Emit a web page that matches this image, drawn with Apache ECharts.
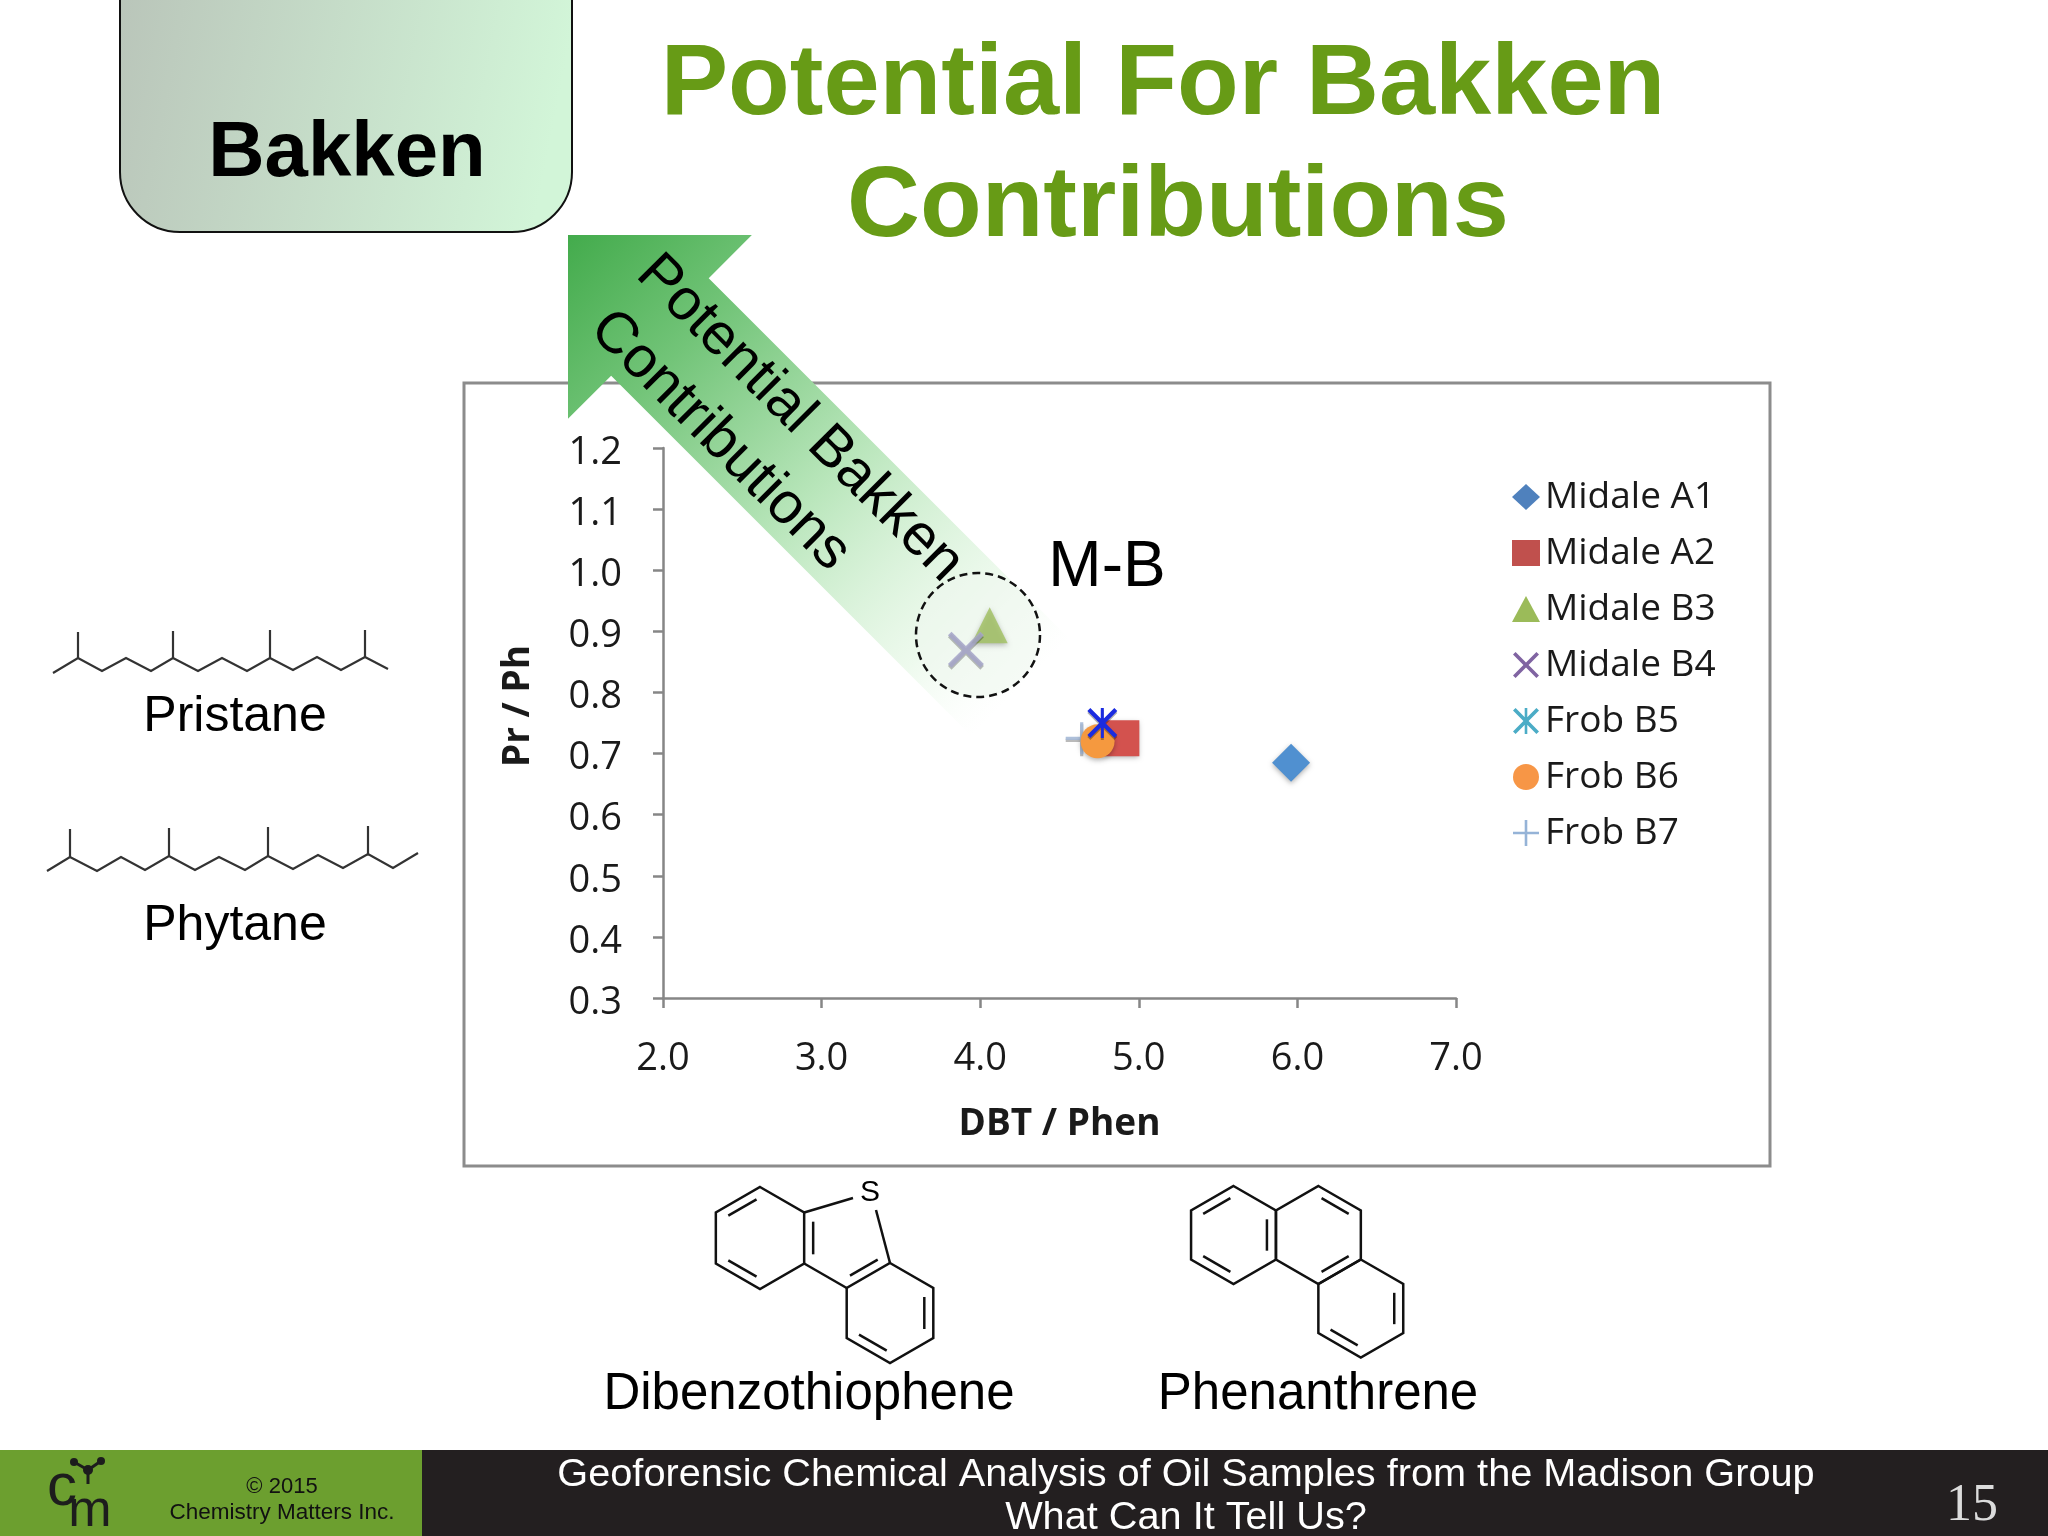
<!DOCTYPE html>
<html><head><meta charset="utf-8">
<script src="https://cdn.jsdelivr.net/npm/echarts@6/dist/echarts.min.js"></script>
<style>html,body{margin:0;padding:0;background:#fff;}#c{width:2048px;height:1536px;}</style>
</head><body><div id="c"></div>
<script>
// ---- data ----
const seriesNames = ['Midale A1','Midale A2','Midale B3','Midale B4','Frob B5','Frob B6','Frob B7'];
const dbtPhen = [5.96, 4.89, 4.06, 3.91, 4.77, 4.74, 4.64];
const prPh    = [0.685, 0.725, 0.91, 0.87, 0.75, 0.72, 0.725];
const xTicks = [2, 3, 4, 5, 6, 7];
const xTickLabels = ['2.0','3.0','4.0','5.0','6.0','7.0'];
const yTicks = [0.3, 0.4, 0.5, 0.6, 0.7, 0.8, 0.9, 1.0, 1.1, 1.2];
const yTickLabels = ['0.3','0.4','0.5','0.6','0.7','0.8','0.9','1.0','1.1','1.2'];

// ---- styles ----
const X_PATH = 'path://M1,0 L5,4 L9,0 L10,1 L6,5 L10,9 L9,10 L5,6 L1,10 L0,9 L4,5 L0,1 Z';
const AST_PATH = 'path://M1,0 L5,4 L9,0 L10,1 L6,5 L10,9 L9,10 L5,6 L1,10 L0,9 L4,5 L0,1 Z M4.5,0 L5.5,0 L5.5,10 L4.5,10 Z';
const PLUS_PATH = 'path://M4.5,0 L5.5,0 L5.5,4.5 L10,4.5 L10,5.5 L5.5,5.5 L5.5,10 L4.5,10 L4.5,5.5 L0,5.5 L0,4.5 L4.5,4.5 Z';
const symbols = ['diamond','rect','triangle',X_PATH,AST_PATH,'circle',PLUS_PATH];
const legendColors = ['#4f81bd','#c0504d','#9bbb59','#8064a2','#4bacc6','#f79646','#95b3d7'];
const markColors = ['#5090d0','#d3524e','#a3c266','#a4a4c8','#1a2be0','#f5993f','#a5b9d6'];
const symSizes = [38, 36, 36, 36, 30, 34, 32];
const zs = [3, 2, 3, 3, 6, 5, 4];
const opac = [1, 1, 0.85, 0.85, 1, 1, 0.9];

const sansUI = 'Open Sans';
const arial = 'Liberation Sans, Arial, sans-serif';

const chart = echarts.init(document.getElementById('c'), null, {renderer:'canvas'});

// ---- decorative helpers ----
function hex(cx, cy, r){const p=[];for(let i=0;i<6;i++){const a=(-90+60*i)*Math.PI/180;p.push([cx+r*Math.cos(a),cy+r*Math.sin(a)]);}return p;}
function bond(p,q,c,d,s){d=d||9;s=s||0.18;const dx=q[0]-p[0],dy=q[1]-p[1],L=Math.hypot(dx,dy);let nx=-dy/L,ny=dx/L;const mx=(p[0]+q[0])/2,my=(p[1]+q[1])/2;if((c[0]-mx)*nx+(c[1]-my)*ny<0){nx=-nx;ny=-ny;}
 return {type:'line',shape:{x1:p[0]+dx*s+nx*d,y1:p[1]+dy*s+ny*d,x2:q[0]-dx*s+nx*d,y2:q[1]-dy*s+ny*d},style:{stroke:'#111',lineWidth:2.5}};}
function ring(pts){return {type:'polygon',shape:{points:pts},style:{fill:'none',stroke:'#111',lineWidth:2.5}};}
function seg(a,b,w,col){return {type:'line',shape:{x1:a[0],y1:a[1],x2:b[0],y2:b[1]},style:{stroke:col||'#111',lineWidth:w||2.5}};}

const g = [];
// chart frame
g.push({type:'rect',z:-5,shape:{x:464,y:383,width:1306,height:783},style:{fill:'#fff',stroke:'#8c8c8c',lineWidth:3}});
// Bakken box
g.push({type:'rect',z:1,shape:{x:120,y:-60,width:452,height:292,r:60},style:{fill:{type:'linear',x:0,y:0,x2:1,y2:0.3,colorStops:[{offset:0,color:'#b9c4b9'},{offset:1,color:'#d2f5d8'}]},stroke:'#111',lineWidth:2}});
g.push({type:'text',z:2,style:{text:'Bakken',x:347,y:154,align:'center',verticalAlign:'middle',font:'bold 78px '+arial,fill:'#000'}});
// title
g.push({type:'text',z:2,style:{text:'Potential For Bakken',x:1163,y:86,align:'center',verticalAlign:'middle',font:'bold 101px '+arial,fill:'#679b16'}});
g.push({type:'text',z:2,style:{text:'Contributions',x:1178,y:208,align:'center',verticalAlign:'middle',font:'bold 101px '+arial,fill:'#679b16'}});
// green arrow
g.push({type:'group',x:568,y:235,rotation:-Math.PI/4,z:1,children:[
 {type:'polygon',z:1,shape:{points:[[0,0],[130,-130],[130,-69],[640,-69],[640,69],[130,69],[130,130]]},
  style:{fill:{type:'linear',x:0,y:0,x2:1,y2:0,colorStops:[{offset:0,color:'#43ab4c'},{offset:0.25,color:'#72c478'},{offset:0.55,color:'#b7e5b9'},{offset:0.85,color:'rgba(225,246,225,0.6)'},{offset:1,color:'rgba(240,252,240,0)'}]}}},
 {type:'text',z:2,style:{text:'Potential Bakken',x:76,y:-34,align:'left',verticalAlign:'middle',font:'58px '+arial,fill:'#000'}},
 {type:'text',z:2,style:{text:'Contributions',x:82,y:38,align:'left',verticalAlign:'middle',font:'58px '+arial,fill:'#000'}}
]});
// dashed circle
g.push({type:'circle',z:1,shape:{cx:978,cy:635,r:62},style:{fill:'rgba(238,246,238,0.6)',stroke:'#111',lineWidth:2.5,lineDash:[8,5]}});
g.push({type:'text',z:2,style:{text:'M-B',x:1107,y:568,align:'center',verticalAlign:'middle',font:'64px '+arial,fill:'#000'}});

// Pristane / Phytane
const pri = [[53,673],[78,658],[102,671],[126,658],[151,671],[173,658],[198,671],[222,658],[247,671],[270,658],[293,670],[317,657],[341,670],[365,657],[388,669]];
const priB = [[1,632],[5,631],[9,630],[13,630]];
const phy = [[47,871],[70,857],[97,871],[121,857],[145,870],[169,856],[195,870],[219,857],[245,870],[268,856],[293,869],[318,855],[343,868],[368,854],[393,868],[418,853]];
const phyB = [[1,829],[5,828],[9,827],[13,826]];
g.push({type:'polyline',shape:{points:pri},style:{stroke:'#333',lineWidth:2.2,fill:'none'}});
priB.forEach(b=>g.push(seg(pri[b[0]],[pri[b[0]][0],b[1]],2.2,'#333')));
g.push({type:'polyline',shape:{points:phy},style:{stroke:'#333',lineWidth:2.2,fill:'none'}});
phyB.forEach(b=>g.push(seg(phy[b[0]],[phy[b[0]][0],b[1]],2.2,'#333')));
g.push({type:'text',style:{text:'Pristane',x:235,y:717,align:'center',verticalAlign:'middle',font:'50px '+arial,fill:'#000'}});
g.push({type:'text',style:{text:'Phytane',x:235,y:926,align:'center',verticalAlign:'middle',font:'50px '+arial,fill:'#000'}});

// Dibenzothiophene
const dL = hex(760,1238,51), dR = hex(890,1313,50), c5=[843,1245];
g.push(ring(dL)); g.push(ring(dR));
g.push(bond(dL[5],dL[0],[760,1238])); g.push(bond(dL[3],dL[4],[760,1238]));
g.push(bond(dL[1],dL[2],c5));
g.push(bond(dR[1],dR[2],[890,1313])); g.push(bond(dR[3],dR[4],[890,1313]));
g.push(bond(dR[5],dR[0],c5));
g.push(seg(dL[2],dR[5])); g.push(seg(dL[1],[853,1198])); g.push(seg([876,1210],dR[0]));
g.push({type:'text',style:{text:'S',x:870,y:1193,align:'center',verticalAlign:'middle',font:'30px '+arial,fill:'#000'}});
// Phenanthrene
const pA = hex(1233.5,1235,49), pB = hex(1318.4,1235,49), pC = hex(1360.8,1308.5,49);
[pA,pB,pC].forEach(r=>g.push(ring(r)));
g.push(bond(pA[5],pA[0],[1233.5,1235])); g.push(bond(pA[3],pA[4],[1233.5,1235])); g.push(bond(pA[1],pA[2],[1233.5,1235]));
g.push(bond(pB[0],pB[1],[1318.4,1235])); g.push(bond(pB[2],pB[3],[1318.4,1235]));
g.push(bond(pC[1],pC[2],[1360.8,1308.5])); g.push(bond(pC[3],pC[4],[1360.8,1308.5]));
g.push({type:'text',style:{text:'Dibenzothiophene',x:809,y:1395,align:'center',verticalAlign:'middle',font:'51px '+arial,fill:'#000'}});
g.push({type:'text',style:{text:'Phenanthrene',x:1318,y:1395,align:'center',verticalAlign:'middle',font:'51px '+arial,fill:'#000'}});

// footer
g.push({type:'rect',z:5,shape:{x:0,y:1450,width:2048,height:86},style:{fill:'#231f20'}});
g.push({type:'rect',z:5,shape:{x:0,y:1450,width:422,height:86},style:{fill:'#6c9f2f'}});
g.push({type:'text',z:6,style:{text:'c',x:62,y:1488,align:'center',verticalAlign:'middle',font:'60px '+arial,fill:'#1d1d1d'}});
g.push({type:'text',z:6,style:{text:'m',x:90,y:1512,align:'center',verticalAlign:'middle',font:'52px '+arial,fill:'#1d1d1d'}});
g.push({type:'circle',z:6,shape:{cx:88,cy:1470,r:5},style:{fill:'#1d1d1d'}});
g.push({type:'circle',z:6,shape:{cx:74,cy:1462,r:4},style:{fill:'#1d1d1d'}});
g.push({type:'circle',z:6,shape:{cx:101,cy:1461,r:4},style:{fill:'#1d1d1d'}});
g.push(Object.assign(seg([74,1462],[88,1470],3,'#1d1d1d'),{z:6}));
g.push(Object.assign(seg([101,1461],[88,1470],3,'#1d1d1d'),{z:6}));
g.push(Object.assign(seg([88,1470],[88,1484],3,'#1d1d1d'),{z:6}));
g.push({type:'text',z:6,style:{text:'© 2015',x:282,y:1487,align:'center',verticalAlign:'middle',font:'22px '+arial,fill:'#111'}});
g.push({type:'text',z:6,style:{text:'Chemistry Matters Inc.',x:282,y:1513,align:'center',verticalAlign:'middle',font:'22.5px '+arial,fill:'#111'}});
g.push({type:'text',z:6,style:{text:'Geoforensic Chemical Analysis of Oil Samples from the Madison Group',x:1186,y:1475,align:'center',verticalAlign:'middle',font:'39.7px '+arial,fill:'#fff'}});
g.push({type:'text',z:6,style:{text:'What Can It Tell Us?',x:1186,y:1518,align:'center',verticalAlign:'middle',font:'39.7px '+arial,fill:'#fff'}});
g.push({type:'text',z:6,style:{text:'15',x:1972,y:1506,align:'center',verticalAlign:'middle',font:'52px Liberation Serif, DejaVu Serif, serif',fill:'#dcdcdc'}});

const series = seriesNames.map((n,i)=>({
  name:n, type:'scatter', z:zs[i], symbol:symbols[i], symbolSize:symSizes[i],
  data:[[dbtPhen[i], prPh[i]]],
  itemStyle:{color:markColors[i], opacity:opac[i],
    shadowBlur:(i===3||i===4||i===6)?0:5, shadowColor:'rgba(0,0,0,0.3)', shadowOffsetY:2}
}));

const axisCol = '#868686';
chart.setOption({
  animation:false,
  backgroundColor:'transparent',
  grid:{left:663, top:448, right:592, bottom:538, containLabel:false},
  xAxis:{type:'value', min:xTicks[0], max:xTicks[xTicks.length-1], interval:1,
    axisLine:{show:true,onZero:false,lineStyle:{color:axisCol,width:2.5}},
    axisTick:{show:true,length:10,lineStyle:{color:axisCol,width:2.5}},
    splitLine:{show:false},
    axisLabel:{margin:42,fontSize:38,fontFamily:sansUI,color:'#1a1a1a',
      formatter:v=>{const k=xTicks.findIndex(t=>Math.abs(t-v)<1e-6);return k>=0?xTickLabels[k]:'';}},
    name:'DBT / Phen', nameLocation:'middle', nameGap:108,
    nameTextStyle:{fontSize:37,fontWeight:'bold',fontFamily:sansUI,color:'#1a1a1a'}},
  yAxis:{type:'value', min:yTicks[0], max:yTicks[yTicks.length-1], interval:0.1,
    axisLine:{show:true,onZero:false,lineStyle:{color:axisCol,width:2.5}},
    axisTick:{show:true,length:10,lineStyle:{color:axisCol,width:2.5}},
    splitLine:{show:false},
    axisLabel:{margin:41,fontSize:38,fontFamily:sansUI,color:'#1a1a1a',verticalAlign:'top',lineHeight:10,
      formatter:v=>{const k=yTicks.findIndex(t=>Math.abs(t-v)<1e-6);return k>=0?yTickLabels[k]:'';}},
    name:'Pr / Ph', nameLocation:'middle', nameGap:126,
    nameTextStyle:{fontSize:37,fontWeight:'bold',fontFamily:sansUI,color:'#1a1a1a',padding:[0,0,0,34]}},
  legend:{orient:'vertical', left:1507, top:470, itemWidth:28, itemHeight:26, itemGap:12,
    textStyle:{fontSize:37,lineHeight:44,fontFamily:sansUI,color:'#1a1a1a'},
    data:seriesNames.map((n,i)=>({name:n, icon:symbols[i], itemStyle:{color:legendColors[i],opacity:1,shadowBlur:0}}))},
  graphic:{elements:g},
  series:series
});
</script></body></html>
